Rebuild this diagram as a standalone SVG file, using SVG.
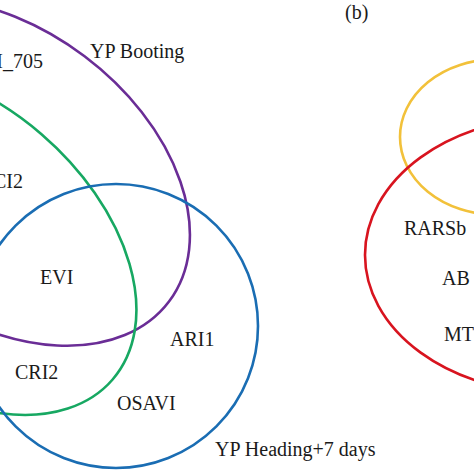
<svg xmlns="http://www.w3.org/2000/svg" width="474" height="474" viewBox="0 0 474 474">
<style>
.set{fill:none;stroke-width:2.6}
.t{font-family:"Liberation Serif","Times New Roman",serif;font-size:20px;fill:#1a1a1a}
</style>
<rect width="474" height="474" fill="#ffffff"/>
<g id="set-purple"><ellipse class="set" stroke="#6a2d96" cx="-2.7" cy="172.1" rx="215" ry="145" transform="rotate(37 -2.7 172.1)"/></g>
<g id="set-green"><ellipse class="set" stroke="#17a862" cx="-49.5" cy="239.8" rx="214" ry="139.4" transform="rotate(40.75 -49.5 239.8)"/></g>
<g id="set-blue"><circle class="set" stroke="#1a6db3" cx="116" cy="326" r="142"/></g>
<g id="set-yellow"><ellipse class="set" stroke="#f2c13a" cx="495" cy="137" rx="95" ry="77.5"/></g>
<g id="set-red"><ellipse class="set" stroke="#d8141f" cx="555" cy="255" rx="190" ry="138"/></g>
<g id="labels">
<text class="t" x="90" y="58">YP Booting</text>
<text class="t" x="43" y="68" text-anchor="end">I_705</text>
<text class="t" x="23" y="188" text-anchor="end">CI2</text>
<text class="t" x="40" y="284">EVI</text>
<text class="t" x="15" y="379">CRI2</text>
<text class="t" x="170" y="346">ARI1</text>
<text class="t" x="117" y="410">OSAVI</text>
<text class="t" x="215" y="456">YP Heading+7 days</text>
<text class="t" x="345" y="19">(b)</text>
<text class="t" x="404" y="235">RARSb</text>
<text class="t" x="442" y="285">AB</text>
<text class="t" x="444" y="341">MT</text>
</g>
</svg>
